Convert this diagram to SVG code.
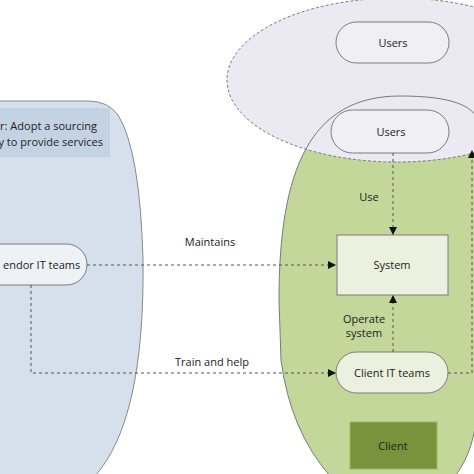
<svg xmlns="http://www.w3.org/2000/svg" width="474" height="474" viewBox="0 0 474 474">
<defs>
<style>
text{font-family:"Open Sans","Liberation Sans",sans-serif;font-size:11px;fill:#222;}
.c{text-anchor:middle;}
.pill{stroke:#7a7a7a;stroke-width:1;}
.dash{fill:none;stroke:#555;stroke-width:1;stroke-dasharray:3,3;}
</style>
<marker id="arr" markerWidth="8" markerHeight="8" refX="7" refY="4" orient="auto" markerUnits="userSpaceOnUse">
<path d="M0,0 L8,4 L0,8 Z" fill="#111"/>
</marker>
</defs>
<rect width="474" height="474" fill="#fff"/>
<g id="vendor-area">
<path d="M -10 101 L 88 101 Q 108 101 118 115 Q 140 150 143 260 Q 145 420 95 476 L -10 476 Z" fill="#d6e0ec" stroke="#8a8a8a" stroke-width="1"/>
<rect x="-5" y="108" width="115" height="49" fill="#c4d3e4"/>
<text x="97" y="130" text-anchor="end" font-size="11.5">r: Adopt a sourcing</text>
<text x="103" y="146" text-anchor="end" font-size="11">y to provide services</text>
</g>
<g id="client-area">
<path d="M 279 300 C 279 170 310 96 400 96 C 450 96 476 105 480 125 L 478 400 Q 476 450 455 476 L 330 476 Q 290 430 281 360 Z" fill="#c4d79b"/>
</g>
<g id="users-area">
<ellipse cx="397" cy="80" rx="170" ry="82" fill="#ebe9f1" stroke="#777" stroke-width="1" stroke-dasharray="3,2"/>
<path d="M 279 300 C 279 170 310 96 400 96 C 450 96 476 105 480 125 L 478 400 Q 476 450 455 476 L 330 476 Q 290 430 281 360 Z" fill="none" stroke="#7a7a7a" stroke-width="1"/>
</g>
<g id="users-outer">
<rect class="pill" x="336" y="22" width="113" height="41" rx="20.5" fill="#f0eff3"/>
<text class="c" x="393" y="47" font-size="12">Users</text>
</g>
<g id="users-inner">
<rect class="pill" x="331" y="110" width="118" height="43" rx="21.5" fill="#f0eff3"/>
<text class="c" x="391" y="136" font-size="12">Users</text>
</g>
<g id="vendor-it">
<rect class="pill" x="-30" y="244" width="117" height="41" rx="20.5" fill="#eef2f7"/>
<text x="3" y="269" font-size="10.5">endor IT teams</text>
</g>
<g id="system">
<rect x="337" y="235" width="111" height="60" fill="#ebf1de" stroke="#7a7a7a" stroke-width="1"/>
<text class="c" x="392" y="269">System</text>
</g>
<g id="client-it">
<rect class="pill" x="336" y="352" width="112" height="41" rx="20.5" fill="#ebf1de"/>
<text class="c" x="392" y="377">Client IT teams</text>
</g>
<g id="client">
<rect x="350" y="422" width="87" height="47" fill="#77933c" stroke="#9bb85e" stroke-width="1"/>
<text class="c" x="393" y="450" fill="#1c2a0a">Client</text>
</g>
<g id="connectors">
<path class="dash" d="M 87 265 L 335 265" marker-end="url(#arr)"/>
<path class="dash" d="M 31 285 L 31 373 L 335 373" marker-end="url(#arr)"/>
<path class="dash" d="M 393 153 L 393 234" marker-end="url(#arr)"/>
<path class="dash" d="M 393 352 L 393 296" marker-end="url(#arr)"/>
<path class="dash" d="M 448 373 L 472 373 L 472 151" marker-end="url(#arr)"/>
<text class="c" x="210" y="246">Maintains</text>
<text class="c" x="212" y="366">Train and help</text>
<text class="c" x="369" y="201">Use</text>
<text class="c" x="364" y="323">Operate</text>
<text class="c" x="364" y="337">system</text>
</g>
</svg>
